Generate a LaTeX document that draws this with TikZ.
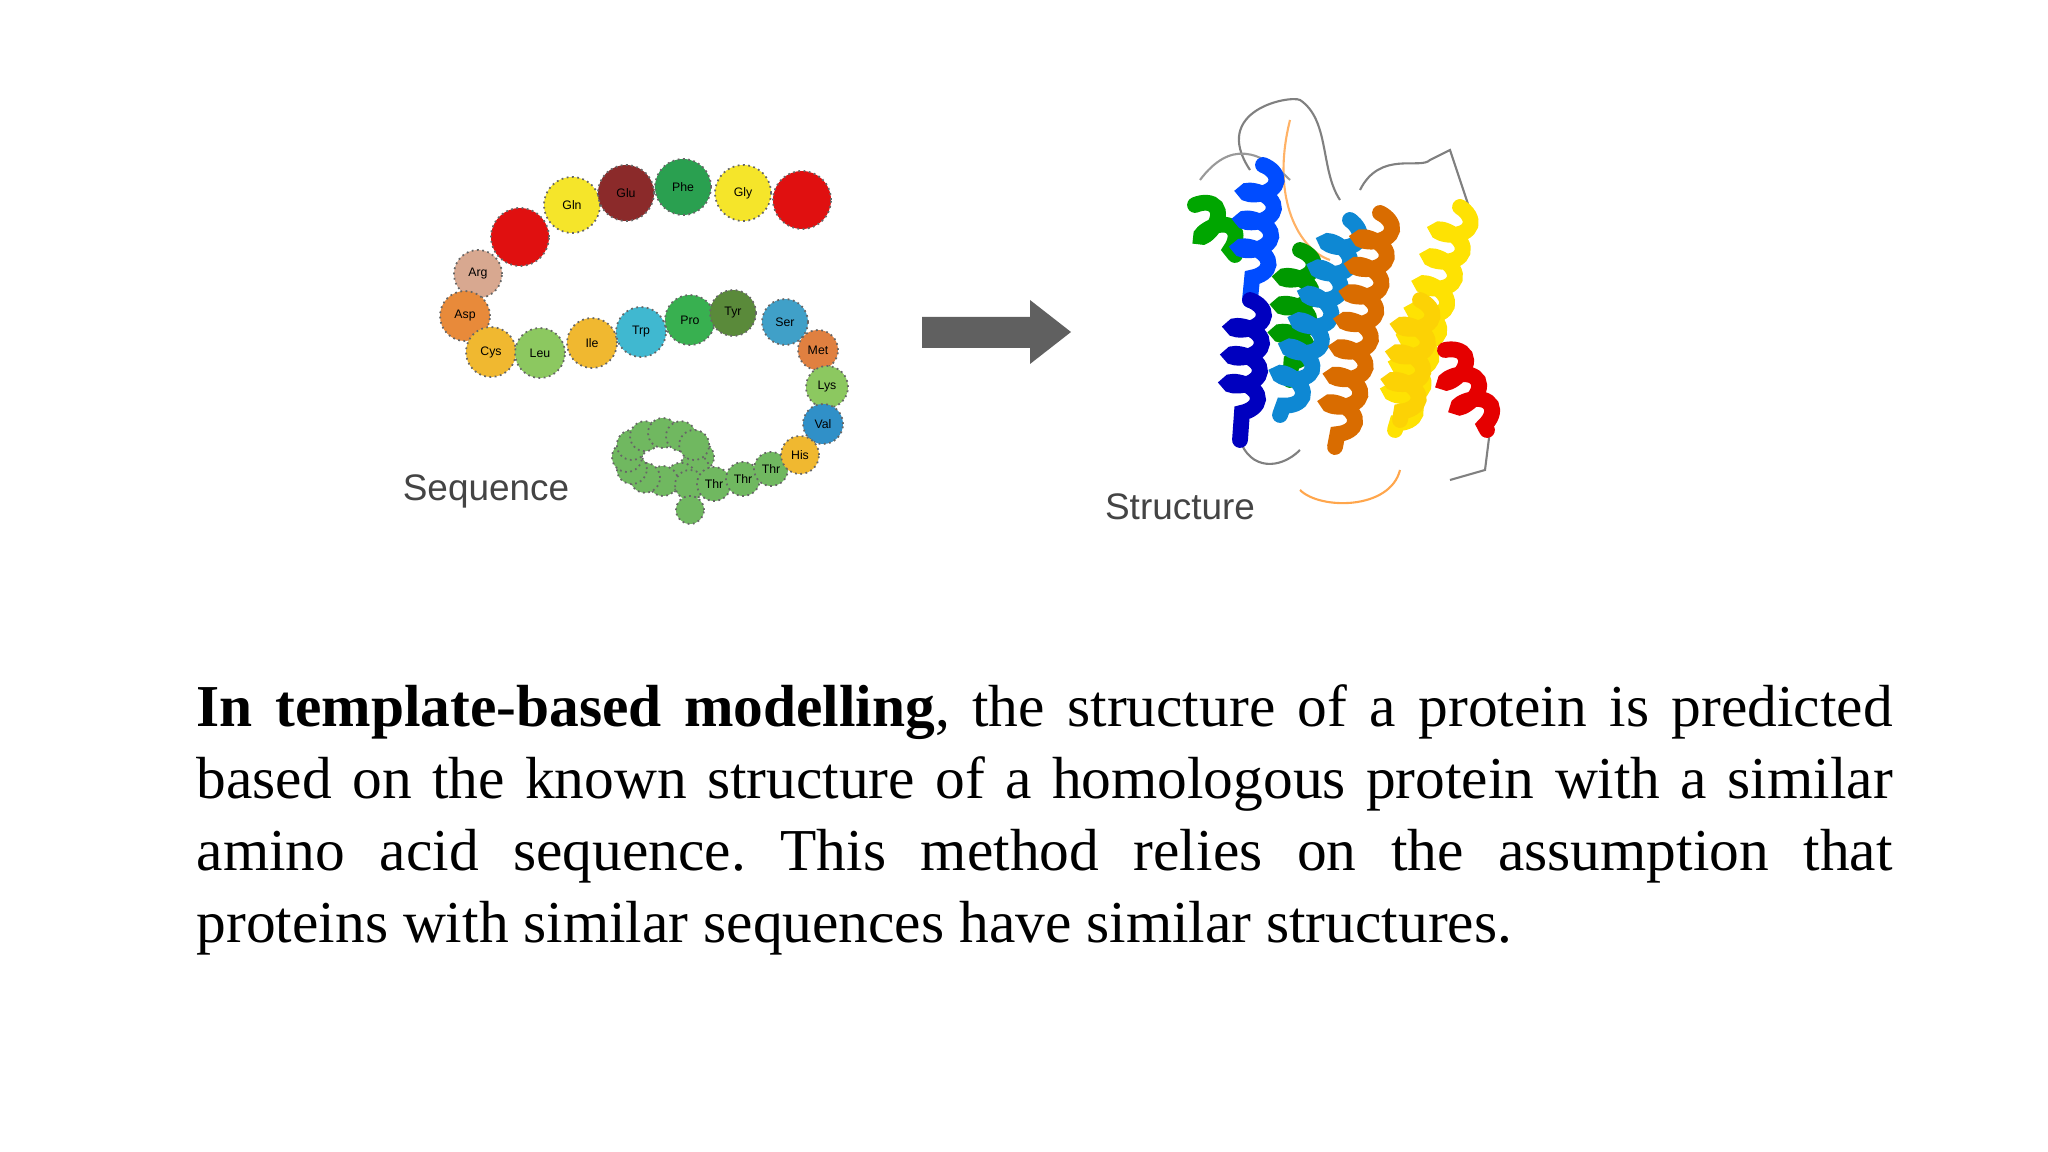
\documentclass[tikz,border=0pt]{standalone}
\usepackage{fontspec}
\setmainfont{Liberation Serif}
\setsansfont{Liberation Sans}
\usetikzlibrary{decorations.pathmorphing}
\definecolor{cred}{HTML}{E01010}
\definecolor{cyel}{HTML}{F5E52A}
\definecolor{cglu}{HTML}{8B2A2A}
\definecolor{cphe}{HTML}{2AA050}
\definecolor{carg}{HTML}{D8A890}
\definecolor{casp}{HTML}{E88A3A}
\definecolor{ccys}{HTML}{F0B830}
\definecolor{cleu}{HTML}{8CC860}
\definecolor{ctrp}{HTML}{40B8D0}
\definecolor{cpro}{HTML}{38B050}
\definecolor{ctyr}{HTML}{5A8A3A}
\definecolor{cser}{HTML}{40A0C8}
\definecolor{cmet}{HTML}{E08040}
\definecolor{cval}{HTML}{3090C8}
\definecolor{csmall}{HTML}{70B860}
\definecolor{labgrey}{HTML}{444444}
\definecolor{arrgrey}{HTML}{606060}
\tikzset{
  bead/.style={circle,draw=black!60,densely dotted,line width=0.5pt,inner sep=0pt,font=\sffamily\fontsize{3.5}{4}\selectfont},
  helix/.style={decorate,decoration={coil,aspect=0.5,segment length=0.28cm,amplitude=0.15cm},line width=4.5pt,line cap=round},
  loopline/.style={line width=0.6pt,draw=#1},
  lab/.style={font=\sffamily\fontsize{10.5}{12}\selectfont,text=labgrey}
}
\begin{document}
\begin{tikzpicture}[x=0.01cm,y=-0.01cm]
\useasboundingbox (0,0) rectangle (2048,1152);
% small beads loop
\foreach \a in {0,30,...,359}{
  \node[bead,fill=csmall,minimum size=30*0.01cm] at ({663+36*cos(\a)},{457+24*sin(\a)}) {};
}
\node[bead,fill=csmall,minimum size=30*0.01cm] (t1) at (690,485) {};
\node[bead,fill=csmall,minimum size=28*0.01cm] (t2) at (690,510) {};
\node[bead,fill=csmall,minimum size=34*0.01cm] (s1) at (714,484) {Thr};
\node[bead,fill=csmall,minimum size=34*0.01cm] (s2) at (743,479) {Thr};
\node[bead,fill=csmall,minimum size=34*0.01cm] (s3) at (771,469) {Thr};
% main beads
\foreach \n/\x/\y/\c/\r/\t in {
 b1/520/237/cred/58/{},
 b2/572/205/cyel/56/Gln,
 b3/626/193/cglu/56/Glu,
 b4/683/187/cphe/56/Phe,
 b5/743/193/cyel/56/Gly,
 b6/802/200/cred/58/{},
 b7/478/274/carg/48/Arg,
 b8/465/316/casp/50/Asp,
 b9/491/352/ccys/50/Cys,
 b10/540/353/cleu/50/Leu,
 b11/592/343/ccys/50/Ile,
 b12/641/332/ctrp/50/Trp,
 b13/690/320/cpro/50/Pro,
 b14/733/313/ctyr/46/Tyr,
 b15/785/322/cser/46/Ser,
 b16/818/350/cmet/40/Met,
 b17/827/387/cleu/42/Lys,
 b18/823/424/cval/40/Val,
 b19/800/455/ccys/38/His}{
  \node[bead,fill=\c,minimum size=\r*0.01cm] (\n) at (\x,\y) {\t};
}
\node[lab] (seq) at (486,491) {Sequence};
% arrow
\fill[arrgrey] (922,317) -- (1030,317) -- (1030,300) -- (1071,332) -- (1030,364) -- (1030,348) -- (922,348) -- cycle;
% structure: loops
\draw[loopline=black!50] (1250,170) .. controls (1210,110) and (1290,95) .. (1300,100) .. controls (1330,120) and (1320,170) .. (1340,200);
\draw[loopline=black!50] (1240,440) .. controls (1250,470) and (1280,470) .. (1300,450);
\draw[loopline=orange!70] (1300,490) .. controls (1320,510) and (1390,510) .. (1400,470);
\draw[loopline=black!50] (1360,190) .. controls (1380,150) and (1420,170) .. (1430,160) -- (1450,150) -- (1470,210);
\draw[loopline=black!50] (1490,430) -- (1485,470) -- (1450,480);
\draw[loopline=orange!60] (1290,120) .. controls (1270,200) and (1300,250) .. (1330,260);
\draw[loopline=black!40] (1200,180) .. controls (1230,140) and (1260,150) .. (1290,180);
% helices
\draw[helix,draw=green!65!black] (1195,205) -- (1235,255);
\draw[helix,draw=blue!70!cyan] (1263,165) -- (1250,300);
\draw[helix,draw=blue!75!black] (1250,300) -- (1240,440);
\draw[helix,draw=green!60!black] (1300,250) -- (1290,380);
\draw[helix,draw=cyan!70!blue] (1350,220) -- (1280,415);
\draw[helix,draw=orange!85!black] (1380,213) -- (1335,447);
\draw[helix,draw=yellow!85!orange] (1460,207) -- (1395,430);
\draw[helix,draw=yellow!70!orange] (1420,300) -- (1400,420);
\draw[helix,draw=red!90!black] (1445,350) -- (1487,430);
\node[lab] (str) at (1180,507) {Structure};
% paragraph
\node[anchor=north west,inner sep=0pt,text width=16.95cm,align=justify,font=\fontsize{16.9}{20.5}\selectfont\frenchspacing] (para) at (196,684)
{\textbf{In template-based modelling}, the structure of a protein is predicted\linebreak based on the known structure of a homologous protein with a similar\linebreak amino acid sequence. This method relies on the assumption that\linebreak proteins with similar sequences have similar structures.};
\end{tikzpicture}
\end{document}
